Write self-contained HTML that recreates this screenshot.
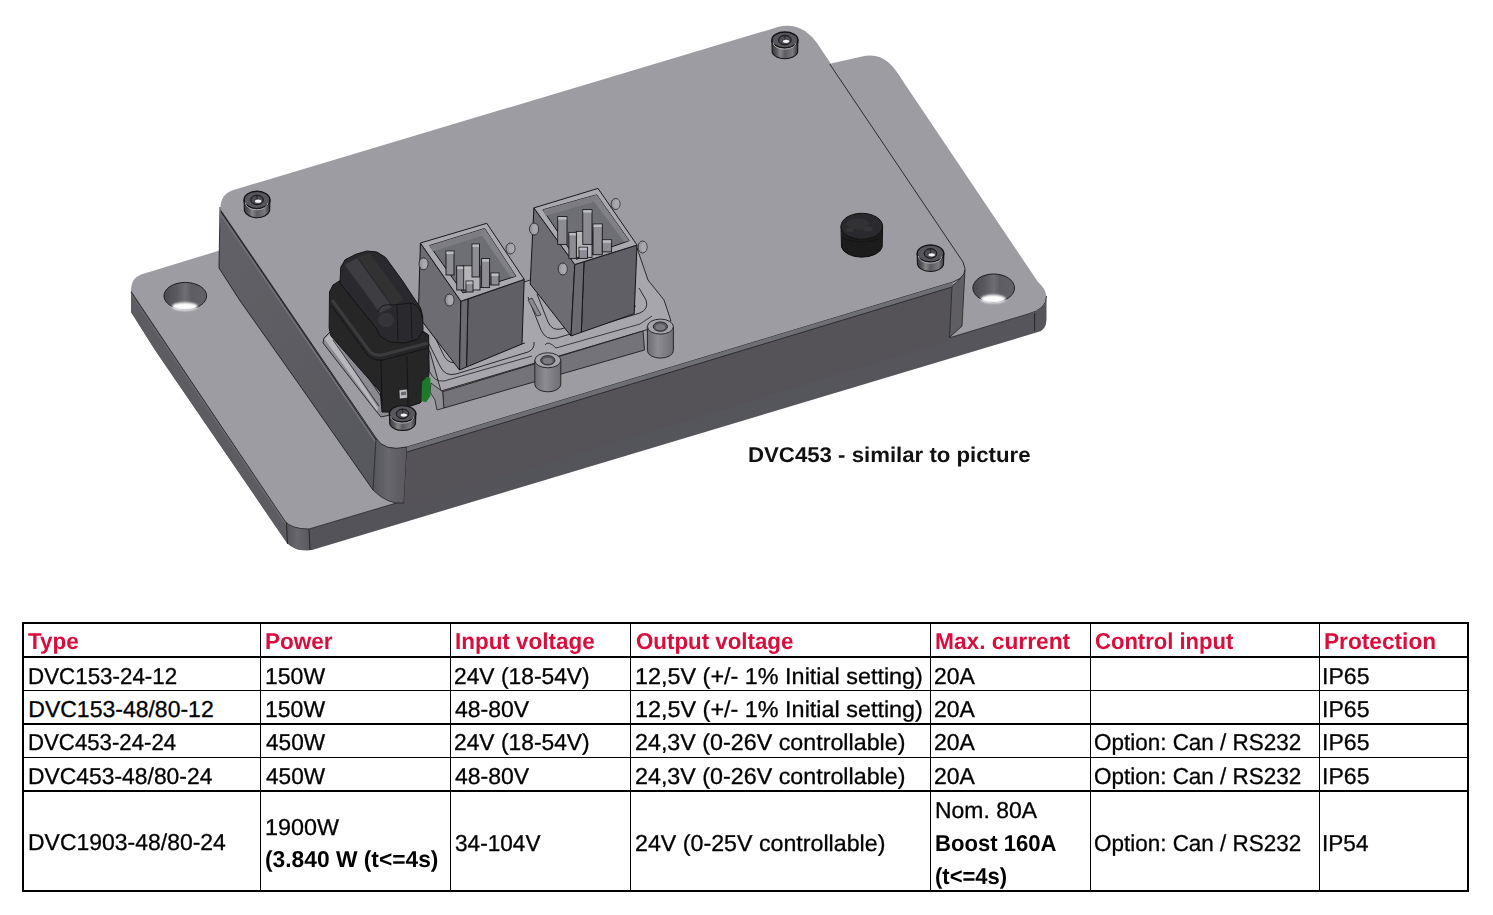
<!DOCTYPE html>
<html><head><meta charset="utf-8"><style>
html,body{margin:0;padding:0;background:#fff}
body{width:1493px;height:915px;position:relative}
.t{position:absolute;white-space:pre;font-family:"Liberation Sans",sans-serif;line-height:1;transform-origin:0 0;text-rendering:geometricPrecision}
.r{-webkit-text-stroke:0.3px currentColor}
.b{font-weight:bold}
.l{position:absolute;background:#000}
svg{position:absolute;left:0;top:0}
</style></head><body>
<svg width="1493" height="915" viewBox="0 0 1493 915">
<defs>
<filter id="blur1" x="-20%" y="-50%" width="140%" height="200%"><feGaussianBlur stdDeviation="0.8"/></filter>
<filter id="soft" x="-5%" y="-5%" width="110%" height="110%"><feGaussianBlur stdDeviation="0.6"/></filter>
<filter id="soft2" x="-5%" y="-5%" width="110%" height="110%"><feGaussianBlur stdDeviation="0.35"/></filter>
<linearGradient id="scrSide" x1="0" x2="1" y1="0" y2="0">
<stop offset="0" stop-color="#38383c"/><stop offset="0.2" stop-color="#5e5e62"/><stop offset="0.32" stop-color="#86868a"/><stop offset="0.5" stop-color="#5c5c60"/><stop offset="0.8" stop-color="#7a7a7e"/><stop offset="1" stop-color="#38383c"/></linearGradient>
<linearGradient id="bossSide" x1="0" x2="1" y1="0" y2="0">
<stop offset="0" stop-color="#6c6c72"/><stop offset="0.4" stop-color="#8c8c92"/><stop offset="1" stop-color="#6e6e74"/></linearGradient>
<linearGradient id="holeG" x1="0" x2="1" y1="0" y2="0">
<stop offset="0" stop-color="#4a4a50"/><stop offset="0.3" stop-color="#5a5a60"/><stop offset="0.5" stop-color="#6e6e74"/><stop offset="0.65" stop-color="#5c5c62"/><stop offset="1" stop-color="#626268"/></linearGradient>
<linearGradient id="cornerL" x1="0" x2="1" y1="0" y2="0">
<stop offset="0" stop-color="#55555b"/><stop offset="0.45" stop-color="#67676d"/><stop offset="1" stop-color="#58585e"/></linearGradient>
<linearGradient id="frontG" x1="0" x2="1" y1="0" y2="0">
<stop offset="0" stop-color="#545259"/><stop offset="1" stop-color="#56555c"/></linearGradient>
<linearGradient id="sideG" x1="0" x2="1" y1="0" y2="1">
<stop offset="0" stop-color="#616167"/><stop offset="1" stop-color="#57575d"/></linearGradient>
</defs>
<g filter="url(#soft)">

<path d="M131,290 L285,521 Q292,529 309,529 L1028,314 Q1047,309 1046.5,296 L1046.5,320 Q1046,330 1038,332 L312,550 Q296,552 287,543 L155,350 L131,312 Z" fill="url(#frontG)"/>
<path d="M131,290 L285,521 L287,543 L155,350 L131,312 Z" fill="#5d5c63"/>
<path d="M131,290 L285,521 L286,526 L131,295 Z" fill="#6a6a70"/>
<path d="M286,522 Q293,529 309,529 L310,550 Q296,552 287,543 Z" fill="url(#cornerL)"/>
<path d="M286.5,523 L287.5,544 M309,529 L310,550" stroke="#222" stroke-width="0.9" fill="none"/>
<path d="M131,290 L285,521 Q291,529 309,529 L1028,314 Q1047,309 1046.5,296 Q1045,288 1038,282 L903.5,82 Q895,68 888,62 Q877,53 862,56.5 L831,63.5 L141,274.5 Q131,278.5 131,289.5 Z" fill="#9d9ca3"/>
<path d="M131,292 L285,521 Q291,529 309,529 L398,502.5" fill="none" stroke="#2a2a2a" stroke-width="0.9"/>
<path d="M950,337.6 L1028,314 Q1047,309 1046.5,296" fill="none" stroke="#2a2a2a" stroke-width="0.9"/>
<path d="M1034.6,313 L1034.6,331" stroke="#222" stroke-width="0.9"/>
<g>
<ellipse cx="185.3" cy="295.9" rx="21.3" ry="13.5" fill="url(#holeG)" stroke="#1e1e1e" stroke-width="1"/>
<ellipse cx="184.8" cy="306.42999999999995" rx="12.78" ry="4.05" fill="#fdfdfd" filter="url(#blur1)"/>
</g>
<g>
<ellipse cx="993.7" cy="288" rx="20.8" ry="14" fill="url(#holeG)" stroke="#1e1e1e" stroke-width="1"/>
<ellipse cx="993.2" cy="298.92" rx="12.48" ry="4.2" fill="#fdfdfd" filter="url(#blur1)"/>
</g>
<path d="M220.5,207 L376,438 L373,490 L296,380 L239.5,300 L219,268 Z" fill="url(#sideG)"/>
<path d="M221,210 L376,438 L376,444 L221,216 Z" fill="#707076"/>
<path d="M221,212 L376,440 M220,207 L219,268 L239.5,300 L296,380 L373,490" fill="none" stroke="#1e1e1e" stroke-width="0.9"/>
<path d="M376,438 Q385,450 407,447 L404,503 Q388,505 373,490 Z" fill="url(#cornerL)" stroke="#222" stroke-width="0.8"/>
<path d="M407,451 L952,286 L950,340 L404,506 Z" fill="#545259"/>
<path d="M952,286 Q962,279 965,270 L962,326 L949.5,337.4 Z" fill="#5e5e64" stroke="#222" stroke-width="0.8"/>
<path d="M220.5,209 Q220,195 232,190.4 L778,27 Q792,23 805,31 Q812,36 817,43 L963,262 Q970,276 953,282 L407,447 Q384,452 376,438 Z" fill="#9d9ca3"/>
<path d="M829.7,64 L963,262 Q970,276 953,282 L407,447 Q384,452 376,438 L221,211" fill="none" stroke="#1e1e1e" stroke-width="0.9"/>
<path d="M407,447 L953,282 L952,287 L407,452 Z" fill="#6e6e74"/>
<path d="M407,452 L952,287" stroke="#222" stroke-width="0.8"/>
</g>
<g filter="url(#soft2)">
<polygon points="414,316 418,332 430,352 441,391 643,331 671,321 664,300 648,280 637,248 574,266 524,282 461,302" fill="#a6a6ac" stroke="#1e1e1e" stroke-width="0.9"/>
<polygon points="442.6,391.7 643,331 644.5,350 443.9,408" fill="#737379" stroke="#1e1e1e" stroke-width="0.9"/>
<polygon points="431,383 442.6,391.7 443.9,408 437,410 435,400 430,392" fill="#8e8e94" stroke="#1e1e1e" stroke-width="0.8"/>
<path d="M425,336 L440,366 Q445,377 456,374 L528,352 Q535,349 534,342" fill="none" stroke="#1e1e1e" stroke-width="0.9"/>
<path d="M433,333 L444,356 Q449,365 459,362 L525,343" fill="none" stroke="#1e1e1e" stroke-width="0.9"/>
<path d="M430,372 Q434,382 444,381 L532,356" fill="none" stroke="#1e1e1e" stroke-width="0.8"/>
<path d="M528,297 L541,330 Q546,341 557,338 L640,313 Q649,309 646,300 L639,288" fill="none" stroke="#1e1e1e" stroke-width="0.9"/>
<path d="M537,294 L548,322 Q552,331 561,329 L636,306" fill="none" stroke="#1e1e1e" stroke-width="0.9"/>
<path d="M545,345 Q548,340 556,348 L640,324 L652,316" fill="none" stroke="#1e1e1e" stroke-width="0.8"/>
<polygon points="528,300 537,316 541,315 532,298" fill="#8a8a90" stroke="#222" stroke-width="0.7"/>
<ellipse cx="510.5" cy="248.5" rx="4.5" ry="5.5" fill="#9a9aa0" stroke="#1e1e1e" stroke-width="0.8"/><ellipse cx="511.7" cy="248.5" rx="2.6999999999999997" ry="4.4" fill="#a8a8ae"/>
<polygon points="420.4,243 460.9,301.2 459.5,370 418.3,316.4" fill="#6c6c72" stroke="#141414" stroke-width="1"/>
<polygon points="468,299 524.2,279.4 522,344 466.5,367" fill="#5e5e65" stroke="#141414" stroke-width="1"/>
<polygon points="460.9,301.2 468,299 466.5,367 459.5,370" fill="#6a6a70" stroke="#141414" stroke-width="1"/>
<polygon points="420.4,243 486.8,223.3 524.2,279.4 460.9,301.2" fill="#a9a9af" stroke="#1a1a1a" stroke-width="1"/>
<polygon points="429.7,245.5 484.7,228.5 515.9,276.2 463,292.9" fill="#6e6e74" stroke="#181818" stroke-width="1"/>
<polygon points="429.7,245.5 484.7,228.5 485.7,234.5 432.7,251.5" fill="#7c7c82"/>
<polygon points="484.7,228.5 515.9,276.2 510.9,277.2 480.7,233.5" fill="#808086"/>
<rect x="462" y="266" width="18" height="24" fill="#b4b4b8" stroke="#181818" stroke-width="0.9"/>
<rect x="462.5" y="266.5" width="17" height="2.5" fill="#bcbcc0"/>
<rect x="446" y="251" width="8" height="24" fill="#8c8c92" stroke="#181818" stroke-width="0.9"/>
<rect x="446.5" y="251.5" width="7" height="2.5" fill="#bcbcc0"/>
<rect x="472" y="244" width="7.5" height="33" fill="#8c8c92" stroke="#181818" stroke-width="0.9"/>
<rect x="472.5" y="244.5" width="6.5" height="2.5" fill="#bcbcc0"/>
<rect x="456.7" y="266" width="7" height="24" fill="#8c8c92" stroke="#181818" stroke-width="0.9"/>
<rect x="457.2" y="266.5" width="6" height="2.5" fill="#bcbcc0"/>
<rect x="481.6" y="258.6" width="8" height="29" fill="#8c8c92" stroke="#181818" stroke-width="0.9"/>
<rect x="482.1" y="259.1" width="7" height="2.5" fill="#bcbcc0"/>
<rect x="491" y="273" width="8" height="12" fill="#8c8c92" stroke="#181818" stroke-width="0.9"/>
<rect x="491.5" y="273.5" width="7" height="2.5" fill="#bcbcc0"/>
<rect x="466" y="281" width="7" height="11" fill="#8c8c92" stroke="#181818" stroke-width="0.9"/>
<rect x="466.5" y="281.5" width="6" height="2.5" fill="#bcbcc0"/>
<ellipse cx="423.5" cy="263.8" rx="4.5" ry="6" fill="#9a9aa0" stroke="#1e1e1e" stroke-width="0.8"/><ellipse cx="424.7" cy="263.8" rx="2.6999999999999997" ry="4.800000000000001" fill="#a8a8ae"/>
<ellipse cx="449.5" cy="300" rx="4.5" ry="6" fill="#9a9aa0" stroke="#1e1e1e" stroke-width="0.8"/><ellipse cx="450.7" cy="300" rx="2.6999999999999997" ry="4.800000000000001" fill="#a8a8ae"/>
<ellipse cx="615.6" cy="204" rx="4.5" ry="5.5" fill="#9a9aa0" stroke="#1e1e1e" stroke-width="0.8"/><ellipse cx="616.8000000000001" cy="204" rx="2.6999999999999997" ry="4.4" fill="#a8a8ae"/>
<polygon points="533.9,207.9 574.8,264.5 571,336 530.2,284" fill="#6c6c72" stroke="#141414" stroke-width="1"/>
<polygon points="584,261.7 637,245 634.2,313.7 581.3,332.3" fill="#5e5e65" stroke="#141414" stroke-width="1"/>
<polygon points="574.8,264.5 584,261.7 581.3,332.3 571,336" fill="#6a6a70" stroke="#141414" stroke-width="1"/>
<polygon points="533.9,207.9 598,188.4 637,245 574.8,264.5" fill="#a9a9af" stroke="#1a1a1a" stroke-width="1"/>
<polygon points="542.9,209.8 596.7,194.8 629.2,240.7 576.3,259.3" fill="#6e6e74" stroke="#181818" stroke-width="1"/>
<polygon points="542.9,209.8 596.7,194.8 597.7,200.8 545.9,215.8" fill="#7c7c82"/>
<polygon points="596.7,194.8 629.2,240.7 624.2,241.7 592.7,199.8" fill="#808086"/>
<rect x="576.3" y="231.4" width="15.7" height="26" fill="#b4b4b8" stroke="#181818" stroke-width="0.9"/>
<rect x="576.8" y="231.9" width="14.7" height="2.5" fill="#bcbcc0"/>
<rect x="557.7" y="216.6" width="9.3" height="27.8" fill="#8c8c92" stroke="#181818" stroke-width="0.9"/>
<rect x="558.2" y="217.1" width="8.3" height="2.5" fill="#bcbcc0"/>
<rect x="582.8" y="209.6" width="9.2" height="34.8" fill="#8c8c92" stroke="#181818" stroke-width="0.9"/>
<rect x="583.3" y="210.1" width="8.2" height="2.5" fill="#bcbcc0"/>
<rect x="568.9" y="232.4" width="7.4" height="26" fill="#8c8c92" stroke="#181818" stroke-width="0.9"/>
<rect x="569.4" y="232.9" width="6.4" height="2.5" fill="#bcbcc0"/>
<rect x="593" y="224" width="9.3" height="30.7" fill="#8c8c92" stroke="#181818" stroke-width="0.9"/>
<rect x="593.5" y="224.5" width="8.3" height="2.5" fill="#bcbcc0"/>
<rect x="602.3" y="239.8" width="9.3" height="12.1" fill="#8c8c92" stroke="#181818" stroke-width="0.9"/>
<rect x="602.8" y="240.3" width="8.3" height="2.5" fill="#bcbcc0"/>
<rect x="579" y="247.2" width="8.4" height="11.2" fill="#8c8c92" stroke="#181818" stroke-width="0.9"/>
<rect x="579.5" y="247.7" width="7.4" height="2.5" fill="#bcbcc0"/>
<ellipse cx="534" cy="229" rx="4.5" ry="6" fill="#9a9aa0" stroke="#1e1e1e" stroke-width="0.8"/><ellipse cx="535.2" cy="229" rx="2.6999999999999997" ry="4.800000000000001" fill="#a8a8ae"/>
<ellipse cx="562.7" cy="269" rx="4.5" ry="6" fill="#9a9aa0" stroke="#1e1e1e" stroke-width="0.8"/><ellipse cx="563.9000000000001" cy="269" rx="2.6999999999999997" ry="4.800000000000001" fill="#a8a8ae"/>
<ellipse cx="642.6" cy="247" rx="4.5" ry="6" fill="#9a9aa0" stroke="#1e1e1e" stroke-width="0.8"/><ellipse cx="643.8000000000001" cy="247" rx="2.6999999999999997" ry="4.800000000000001" fill="#a8a8ae"/>
<g>
<path d="M534.8,360.3 L534.8,384.3 A13,7.5 0 0 0 560.8,384.3 L560.8,360.3 Z" fill="url(#bossSide)" stroke="#1e1e1e" stroke-width="0.9"/>
<ellipse cx="547.8" cy="360.3" rx="13" ry="7.5" fill="#a4a4aa" stroke="#1e1e1e" stroke-width="0.9"/>
<ellipse cx="547.8" cy="360.3" rx="7.15" ry="4.65" fill="#5c5c62" stroke="#1e1e1e" stroke-width="0.9"/>
<ellipse cx="547.8" cy="360.90000000000003" rx="4.68" ry="2.85" fill="#7a7a80"/>
</g>
<g>
<path d="M647.4,326.6 L647.4,350.6 A13,7.5 0 0 0 673.4,350.6 L673.4,326.6 Z" fill="url(#bossSide)" stroke="#1e1e1e" stroke-width="0.9"/>
<ellipse cx="660.4" cy="326.6" rx="13" ry="7.5" fill="#a4a4aa" stroke="#1e1e1e" stroke-width="0.9"/>
<ellipse cx="660.4" cy="326.6" rx="7.15" ry="4.65" fill="#5c5c62" stroke="#1e1e1e" stroke-width="0.9"/>
<ellipse cx="660.4" cy="327.20000000000005" rx="4.68" ry="2.85" fill="#7a7a80"/>
</g>
<polygon points="324,338 331,331 342,338 386,404 390,415 381,417 376,411 323,343" fill="#8a8a90" stroke="#1e1e1e" stroke-width="0.9"/>
<polygon points="324.5,339 330,334 332,337 378,408 377,411" fill="#b8b8bc"/>
<path d="M333,340 L379,406" stroke="#1e1e1e" stroke-width="0.8"/>
<polygon points="329.5,292 333,285 341,280 352,282 428.6,335 429.2,371 426.5,395 420,403 392,412 382,412 380.3,392 331,336 329.2,328" fill="#252528" stroke="#121212" stroke-width="1"/>
<path d="M332,300 L368,349 Q372,356 382,355 L428,343" fill="none" stroke="#3a3a3e" stroke-width="3.2"/>
<path d="M331,305 L366,353 Q371,361 383,360 L428,348" fill="none" stroke="#141414" stroke-width="0.9"/>
<path d="M381,360 L382,405 M407,357 L408,405" fill="none" stroke="#141414" stroke-width="0.9"/>
<polygon points="340.8,267.3 345.1,259.7 356,254.2 367,251 376.8,252 385.6,257.5 391,265 403,281.5 413,296.8 420.5,307.8 422.7,316.5 423,330 418,339 405,343 390,342 380,336 376,328 340,283" fill="#2b2b2e" stroke="#121212" stroke-width="1"/>
<polygon points="345,265 357,258 392,307 380,313" fill="#3e3e42"/>
<polygon points="358,257 370,253 404,300 393,306" fill="#303033"/>
<path d="M378,312 Q380,303 393,305 L411,303 Q421,306 422,318" fill="none" stroke="#141414" stroke-width="0.9"/>
<ellipse cx="386" cy="320" rx="8" ry="7" fill="#353539"/>
<path d="M397,305 L398,342 M411,303 L412,342" fill="none" stroke="#141414" stroke-width="0.8"/>
<polygon points="399,390 407,389 407.5,398 399.5,399" fill="#c0c0c4" stroke="#222" stroke-width="0.7"/>
<polygon points="401,392 406,391.5 406,395 401,395.5" fill="#6a6a70"/>
<polygon points="422,382 427,376.7 430.5,378 430.5,396 426,402.3 421.5,401" fill="#1f7a2c"/>
<g>
<path d="M244.1,199.9 L244.4,210.9 A12.9,8.7 0 0 0 269.59999999999997,210.9 L269.9,199.9 Z" fill="url(#scrSide)" stroke="#161616" stroke-width="1.1"/>
<ellipse cx="257" cy="199.9" rx="12.9" ry="8.7" fill="#57575c" stroke="#121212" stroke-width="1.4"/>
<path d="M245.29999999999998,202.4 A11.4,7.199999999999999 0 0 0 268.09999999999997,202.70000000000002" fill="none" stroke="#b4b4b8" stroke-width="0.9"/>
<ellipse cx="257" cy="199.9" rx="6.3" ry="4.8" fill="#4c4c52" stroke="#111" stroke-width="1"/>
<path d="M254,195.6 L260,195.6 M257,195.4 L257,199.4" stroke="#222" stroke-width="0.8"/>
<ellipse cx="258.2" cy="201.20000000000002" rx="3.2" ry="1.6" fill="#f2f2f2"/>
</g>
<g>
<path d="M771.9,40 L772.1999999999999,52.5 A13,8 0 0 0 797.6,52.5 L797.9,40 Z" fill="url(#scrSide)" stroke="#161616" stroke-width="1.1"/>
<ellipse cx="784.9" cy="40" rx="13" ry="8" fill="#57575c" stroke="#121212" stroke-width="1.4"/>
<path d="M773.1,42.5 A11.5,6.5 0 0 0 796.1,42.8" fill="none" stroke="#b4b4b8" stroke-width="0.9"/>
<ellipse cx="784.9" cy="40" rx="6.3" ry="4.8" fill="#4c4c52" stroke="#111" stroke-width="1"/>
<path d="M781.9,35.7 L787.9,35.7 M784.9,35.5 L784.9,39.5" stroke="#222" stroke-width="0.8"/>
<ellipse cx="786.1" cy="41.3" rx="3.2" ry="1.6" fill="#f2f2f2"/>
</g>
<g>
<path d="M917.2,253.5 L917.5,264.8 A13.3,8.5 0 0 0 943.5,264.8 L943.8,253.5 Z" fill="url(#scrSide)" stroke="#161616" stroke-width="1.1"/>
<ellipse cx="930.5" cy="253.5" rx="13.3" ry="8.5" fill="#57575c" stroke="#121212" stroke-width="1.4"/>
<path d="M918.4000000000001,256.0 A11.8,7.0 0 0 0 942.0,256.3" fill="none" stroke="#b4b4b8" stroke-width="0.9"/>
<ellipse cx="930.5" cy="253.5" rx="6.3" ry="4.8" fill="#4c4c52" stroke="#111" stroke-width="1"/>
<path d="M927.5,249.2 L933.5,249.2 M930.5,249.0 L930.5,253.0" stroke="#222" stroke-width="0.8"/>
<ellipse cx="931.7" cy="254.8" rx="3.2" ry="1.6" fill="#f2f2f2"/>
</g>
<g>
<path d="M389.40000000000003,413.8 L389.70000000000005,424.1 A13.2,8.2 0 0 0 415.5,424.1 L415.8,413.8 Z" fill="url(#scrSide)" stroke="#161616" stroke-width="1.1"/>
<ellipse cx="402.6" cy="413.8" rx="13.2" ry="8.2" fill="#57575c" stroke="#121212" stroke-width="1.4"/>
<path d="M390.6,416.3 A11.7,6.699999999999999 0 0 0 414.0,416.6" fill="none" stroke="#b4b4b8" stroke-width="0.9"/>
<ellipse cx="402.6" cy="413.8" rx="6.3" ry="4.8" fill="#4c4c52" stroke="#111" stroke-width="1"/>
<path d="M399.6,409.5 L405.6,409.5 M402.6,409.3 L402.6,413.3" stroke="#222" stroke-width="0.8"/>
<ellipse cx="403.8" cy="415.1" rx="3.2" ry="1.6" fill="#f2f2f2"/>
</g>
<g><path d="M841,226.3 L841.5,247 A20.6,12 0 0 0 882.2,247 L882.6,226.3 Z" fill="#1c1c1e" stroke="#111" stroke-width="1"/><ellipse cx="861.8" cy="226.3" rx="20.8" ry="13" fill="#2b2b2e" stroke="#111" stroke-width="1"/><ellipse cx="858" cy="224" rx="11" ry="5.5" fill="#323235"/><ellipse cx="868" cy="229" rx="5" ry="2.5" fill="#353538"/><ellipse cx="850" cy="230" rx="4" ry="2" fill="#343437"/><path d="M842,238 Q861,246 881,238" fill="none" stroke="#111" stroke-width="0.8"/></g>
</g>
</svg>
<div class="l" style="left:22px;top:622px;width:1447px;height:2px"></div>
<div class="l" style="left:22px;top:656px;width:1447px;height:2px"></div>
<div class="l" style="left:22px;top:690px;width:1447px;height:1px"></div>
<div class="l" style="left:22px;top:723px;width:1447px;height:2px"></div>
<div class="l" style="left:22px;top:757px;width:1447px;height:1px"></div>
<div class="l" style="left:22px;top:790px;width:1447px;height:2px"></div>
<div class="l" style="left:22px;top:890px;width:1447px;height:2px"></div>
<div class="l" style="left:22px;top:622px;width:2px;height:270px"></div>
<div class="l" style="left:260px;top:622px;width:1px;height:270px"></div>
<div class="l" style="left:450px;top:622px;width:1px;height:270px"></div>
<div class="l" style="left:630px;top:622px;width:1px;height:270px"></div>
<div class="l" style="left:930px;top:622px;width:1px;height:270px"></div>
<div class="l" style="left:1090px;top:622px;width:1px;height:270px"></div>
<div class="l" style="left:1319px;top:622px;width:1px;height:270px"></div>
<div class="l" style="left:1467px;top:622px;width:2px;height:270px"></div>
<div class="t b" style="left:27.50px;top:630.13px;font-size:23.0px;color:#da0d3d;transform:scaleX(0.9769)">Type</div>
<div class="t b" style="left:265.02px;top:630.13px;font-size:23.0px;color:#da0d3d;transform:scaleX(0.9784)">Power</div>
<div class="t b" style="left:454.52px;top:630.13px;font-size:23.0px;color:#da0d3d;transform:scaleX(0.9758)">Input voltage</div>
<div class="t b" style="left:636.00px;top:630.13px;font-size:23.0px;color:#da0d3d;transform:scaleX(0.9698)">Output voltage</div>
<div class="t b" style="left:934.51px;top:630.13px;font-size:23.0px;color:#da0d3d;transform:scaleX(0.9882)">Max. current</div>
<div class="t b" style="left:1094.50px;top:630.13px;font-size:23.0px;color:#da0d3d;transform:scaleX(0.9586)">Control input</div>
<div class="t b" style="left:1323.51px;top:630.13px;font-size:23.0px;color:#da0d3d;transform:scaleX(0.9858)">Protection</div>
<div class="t r" style="left:28.33px;top:664.63px;font-size:23.0px;color:#000000;transform:scaleX(0.9721)">DVC153-24-12</div>
<div class="t r" style="left:264.60px;top:664.63px;font-size:23.0px;color:#000000;transform:scaleX(1.0004)">150W</div>
<div class="t r" style="left:454.01px;top:664.63px;font-size:23.0px;color:#000000;transform:scaleX(0.9916)">24V (18-54V)</div>
<div class="t r" style="left:634.98px;top:664.63px;font-size:23.0px;color:#000000;transform:scaleX(1.0167)">12,5V (+/- 1% Initial setting)</div>
<div class="t r" style="left:934.00px;top:664.63px;font-size:23.0px;color:#000000;transform:scaleX(0.9980)">20A</div>
<div class="t r" style="left:1322.29px;top:664.63px;font-size:23.0px;color:#000000;transform:scaleX(1.0040)">IP65</div>
<div class="t r" style="left:28.30px;top:697.63px;font-size:23.0px;color:#000000;transform:scaleX(1.0000)">DVC153-48/80-12</div>
<div class="t r" style="left:264.60px;top:697.63px;font-size:23.0px;color:#000000;transform:scaleX(1.0004)">150W</div>
<div class="t r" style="left:455.00px;top:697.63px;font-size:23.0px;color:#000000;transform:scaleX(0.9997)">48-80V</div>
<div class="t r" style="left:634.98px;top:697.63px;font-size:23.0px;color:#000000;transform:scaleX(1.0167)">12,5V (+/- 1% Initial setting)</div>
<div class="t r" style="left:934.00px;top:697.63px;font-size:23.0px;color:#000000;transform:scaleX(0.9980)">20A</div>
<div class="t r" style="left:1322.29px;top:697.63px;font-size:23.0px;color:#000000;transform:scaleX(1.0040)">IP65</div>
<div class="t r" style="left:28.33px;top:731.43px;font-size:23.0px;color:#000000;transform:scaleX(0.9657)">DVC453-24-24</div>
<div class="t r" style="left:265.60px;top:731.43px;font-size:23.0px;color:#000000;transform:scaleX(0.9839)">450W</div>
<div class="t r" style="left:454.01px;top:731.43px;font-size:23.0px;color:#000000;transform:scaleX(0.9916)">24V (18-54V)</div>
<div class="t r" style="left:634.99px;top:731.43px;font-size:23.0px;color:#000000;transform:scaleX(1.0122)">24,3V (0-26V controllable)</div>
<div class="t r" style="left:934.00px;top:731.43px;font-size:23.0px;color:#000000;transform:scaleX(0.9980)">20A</div>
<div class="t r" style="left:1094.22px;top:731.43px;font-size:23.0px;color:#000000;transform:scaleX(0.9765)">Option: Can / RS232</div>
<div class="t r" style="left:1322.29px;top:731.43px;font-size:23.0px;color:#000000;transform:scaleX(1.0040)">IP65</div>
<div class="t r" style="left:28.31px;top:764.83px;font-size:23.0px;color:#000000;transform:scaleX(0.9946)">DVC453-48/80-24</div>
<div class="t r" style="left:265.60px;top:764.83px;font-size:23.0px;color:#000000;transform:scaleX(0.9839)">450W</div>
<div class="t r" style="left:455.00px;top:764.83px;font-size:23.0px;color:#000000;transform:scaleX(0.9997)">48-80V</div>
<div class="t r" style="left:634.99px;top:764.83px;font-size:23.0px;color:#000000;transform:scaleX(1.0122)">24,3V (0-26V controllable)</div>
<div class="t r" style="left:934.00px;top:764.83px;font-size:23.0px;color:#000000;transform:scaleX(0.9980)">20A</div>
<div class="t r" style="left:1094.22px;top:764.83px;font-size:23.0px;color:#000000;transform:scaleX(0.9765)">Option: Can / RS232</div>
<div class="t r" style="left:1322.29px;top:764.83px;font-size:23.0px;color:#000000;transform:scaleX(1.0040)">IP65</div>
<div class="t r" style="left:28.30px;top:831.33px;font-size:23.0px;color:#000000;transform:scaleX(0.9985)">DVC1903-48/80-24</div>
<div class="t r" style="left:264.58px;top:816.23px;font-size:23.0px;color:#000000;transform:scaleX(1.0157)">1900W</div>
<div class="t b" style="left:264.61px;top:848.03px;font-size:23.0px;color:#000000;transform:scaleX(0.9904)">(3.840 W (t&lt;=4s)</div>
<div class="t r" style="left:455.00px;top:832.03px;font-size:23.0px;color:#000000;transform:scaleX(0.9827)">34-104V</div>
<div class="t r" style="left:634.99px;top:832.03px;font-size:23.0px;color:#000000;transform:scaleX(1.0095)">24V (0-25V controllable)</div>
<div class="t r" style="left:934.80px;top:799.13px;font-size:23.0px;color:#000000;transform:scaleX(0.9968)">Nom. 80A</div>
<div class="t b" style="left:934.84px;top:832.03px;font-size:23.0px;color:#000000;transform:scaleX(0.9606)">Boost 160A</div>
<div class="t b" style="left:934.84px;top:865.03px;font-size:23.0px;color:#000000;transform:scaleX(0.9557)">(t&lt;=4s)</div>
<div class="t r" style="left:1094.22px;top:832.03px;font-size:23.0px;color:#000000;transform:scaleX(0.9765)">Option: Can / RS232</div>
<div class="t r" style="left:1322.34px;top:832.03px;font-size:23.0px;color:#000000;transform:scaleX(0.9819)">IP54</div>
<div class="t b" style="left:747.96px;top:444.67px;font-size:21.3px;color:#111111;transform:scaleX(1.0426)">DVC453 - similar to picture</div>
</body></html>
